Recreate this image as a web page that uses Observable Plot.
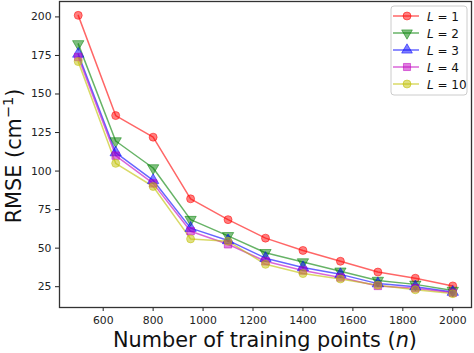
<!DOCTYPE html>
<html>
<head>
<meta charset="utf-8">
<script src="https://cdn.jsdelivr.net/npm/d3@7"></script>
<script src="https://cdn.jsdelivr.net/npm/@observablehq/plot@0.6"></script>
<style>
  html, body { margin: 0; padding: 0; background: #fff; }
  svg { font-family: "DejaVu Sans", sans-serif; }
</style>
</head>
<body>
<div id="chart"></div>
<script>
const nPoints = [500, 650, 800, 950, 1100, 1250, 1400, 1550, 1700, 1850, 2000];
const seriesNames = ["1", "2", "3", "4", "10"];
const rmseL1  = [201, 136, 122, 82, 68.5, 56.5, 48.5, 41.5, 34.5, 30.5, 25.5];
const rmseL2  = [182.5, 119.5, 102, 68.5, 58, 47, 41, 35, 29, 26.5, 22.5];
const rmseL3  = [176, 112, 94, 63, 55, 43.5, 37.5, 33, 27, 25, 21.5];
const rmseL4  = [174, 110, 92, 61, 52.5, 41.5, 35.5, 31, 25.5, 24, 21];
const rmseL10 = [171, 105, 90, 56, 54.5, 39.5, 33.5, 30, 26, 23, 20.5];
const seriesValues = [rmseL1, rmseL2, rmseL3, rmseL4, rmseL10];
const seriesColors = ["#ff0000", "#008000", "#0000ff", "#bf00bf", "#bfbf00"];
const seriesSymbols = ["circle", "triangle", "triangle", "square", "circle"];
const seriesRotate = [0, 180, 0, 0, 0];
const xTicks = [600, 800, 1000, 1200, 1400, 1600, 1800, 2000];
const yTicks = [25, 50, 75, 100, 125, 150, 175, 200];

const data = [];
seriesNames.forEach((s, i) => {
  nPoints.forEach((n, j) => data.push({L: s, n, rmse: seriesValues[i][j]}));
});

const marks = [];
seriesNames.forEach((s, i) => {
  const d = data.filter(r => r.L === s);
  marks.push(Plot.line(d, {x: "n", y: "rmse", stroke: seriesColors[i], strokeWidth: 1.5, strokeOpacity: 0.6}));
});
seriesNames.forEach((s, i) => {
  const d = data.filter(r => r.L === s);
  marks.push(Plot.dot(d, {x: "n", y: "rmse", symbol: seriesSymbols[i], rotate: seriesRotate[i],
    r: seriesSymbols[i] === "circle" ? 4 : 4.2,
    fill: seriesColors[i], fillOpacity: 0.5, stroke: seriesColors[i], strokeOpacity: 0.5, strokeWidth: 1}));
});
marks.push(Plot.frame({stroke: "#333", strokeWidth: 1.3}));

const W = 474, H = 353;
const ml = 59, mr = 3, mt = 1, mb = 46;
const svg = Plot.plot({
  width: W, height: H,
  marginLeft: ml, marginRight: mr, marginTop: mt, marginBottom: mb,
  style: {fontFamily: "DejaVu Sans, sans-serif", fontSize: "10.8px", color: "#222", background: "#fff"},
  x: {domain: [425, 2075], ticks: xTicks, tickFormat: d3.format("d"), tickSize: 4, tickPadding: 5, label: null},
  y: {domain: [11.5, 210], ticks: yTicks, tickFormat: d3.format("d"), tickSize: 4, tickPadding: 4, label: null},
  marks
});
document.getElementById("chart").appendChild(svg);

const root = d3.select(svg);
// axis labels
const xl = root.append("text")
  .attr("x", ml + (W - ml - mr) / 2).attr("y", 347)
  .attr("text-anchor", "middle").attr("font-size", 20.8).attr("fill", "#111");
xl.append("tspan").text("Number of training points (");
xl.append("tspan").attr("font-style", "italic").text("n");
xl.append("tspan").text(")");

const yl = root.append("text")
  .attr("transform", `translate(21,${mt + (H - mt - mb) / 2 + 2}) rotate(-90)`)
  .attr("text-anchor", "middle").attr("font-size", 20.8).attr("fill", "#111");
yl.append("tspan").text("RMSE (cm");
yl.append("tspan").attr("font-size", 14.5).attr("dy", -8).text("−1");
yl.append("tspan").attr("dy", 8).text(")");

// legend
const lg = root.append("g").attr("transform", "translate(391,6)").attr("text-anchor", "start");
lg.append("rect").attr("width", 76).attr("height", 89).attr("rx", 3)
  .attr("fill", "#fff").attr("fill-opacity", 0.8).attr("stroke", "#ccc").attr("stroke-width", 1);
seriesNames.forEach((s, i) => {
  const y = 10 + i * 17;
  const g = lg.append("g").attr("transform", `translate(0,${y})`);
  g.append("line").attr("x1", 2).attr("x2", 28).attr("y1", 0).attr("y2", 0)
    .attr("stroke", seriesColors[i]).attr("stroke-width", 1.5).attr("stroke-opacity", 0.6);
  const symType = seriesSymbols[i] === "circle" ? d3.symbolCircle : seriesSymbols[i] === "square" ? d3.symbolSquare : d3.symbolTriangle;
  const sz = seriesSymbols[i] === "circle" ? Math.PI * 16 : 50;
  g.append("path").attr("d", d3.symbol(symType, sz)())
    .attr("transform", `translate(16,0) rotate(${seriesRotate[i]})`)
    .attr("fill", seriesColors[i]).attr("fill-opacity", 0.5)
    .attr("stroke", seriesColors[i]).attr("stroke-opacity", 0.5);
  const t = g.append("text").attr("x", 36).attr("y", 4.5).attr("font-size", 12).attr("fill", "#111")
    .attr("text-anchor", "start");
  t.append("tspan").attr("font-style", "italic").text("L");
  t.append("tspan").text(" = " + s);
});
</script>
</body>
</html>
